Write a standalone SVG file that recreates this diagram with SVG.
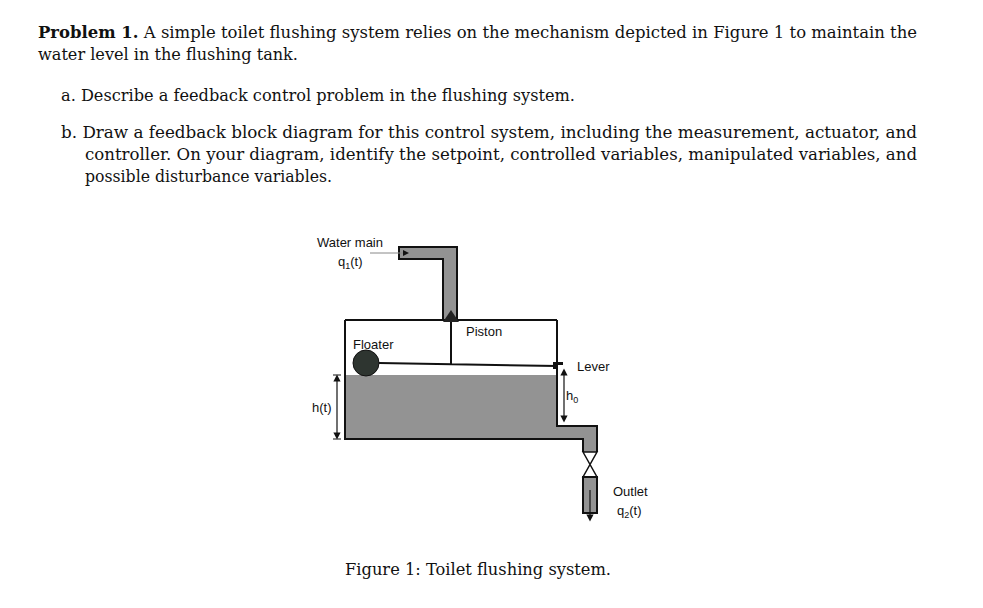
<svg xmlns="http://www.w3.org/2000/svg" width="983" height="608" viewBox="0 0 983 608">
<style>
.t{font-family:"DejaVu Serif","Liberation Serif",serif;font-size:16px;fill:#111}
.s{font-family:"Liberation Sans",Arial,sans-serif;font-size:13px;fill:#111}
.ln{stroke:#111;stroke-width:2;fill:none}
.pipe{fill:#939393;stroke:#111;stroke-width:2}
</style>
<defs><marker id="a" markerWidth="6" markerHeight="6" refX="3" refY="3" orient="auto-start-reverse"><path d="M0,0L6,3L0,6z" fill="#111"/></marker></defs>
<rect width="983" height="608" fill="#fff"/>
<g id="text">
<text class="t" x="38" y="38" textLength="879" lengthAdjust="spacingAndGlyphs"><tspan font-weight="bold">Problem 1.</tspan> A simple toilet flushing system relies on the mechanism depicted in Figure 1 to maintain the</text>
<text class="t" x="38" y="60" textLength="260" lengthAdjust="spacingAndGlyphs">water level in the flushing tank.</text>
<text class="t" x="61" y="101" textLength="514" lengthAdjust="spacingAndGlyphs">a. Describe a feedback control problem in the flushing system.</text>
<text class="t" x="61" y="138" textLength="856" lengthAdjust="spacingAndGlyphs">b. Draw a feedback block diagram for this control system, including the measurement, actuator, and</text>
<text class="t" x="85" y="160" textLength="832" lengthAdjust="spacingAndGlyphs">controller. On your diagram, identify the setpoint, controlled variables, manipulated variables, and</text>
<text class="t" x="85" y="182" textLength="247" lengthAdjust="spacingAndGlyphs">possible disturbance variables.</text>
<text class="t" x="345" y="575" textLength="266" lengthAdjust="spacingAndGlyphs">Figure 1: Toilet flushing system.</text>
</g>
<g id="tank">
<path d="M345,375H557V426H597V452H583V439H345Z" fill="#939393"/>
<path class="ln" d="M345,320V439H583V452M557,320V426H597V452M345,320H557"/>
</g>
<g id="inlet">
<path class="pipe" d="M399,247H457V320H443V259H399Z"/>
<polygon points="451,310 443,322 459,322" fill="#222"/>
</g>
<g id="outlet">
<rect class="pipe" x="583" y="477" width="14" height="36" stroke-width="0"/>
<path class="ln" d="M583,477V513M597,477V513"/>
<path d="M583,452L597,477H583L597,452Z" fill="none" stroke="#111" stroke-width="1.5"/>
</g>
<g id="floater">
<circle cx="366" cy="363" r="13" fill="#2e3530" stroke="#111"/>
<path class="ln" d="M379,363L557,366M451,365V322"/>
<path d="M553,362h10v3h-6v4h-4z" fill="#111"/>
</g>
<g id="connectors">
<line x1="370" y1="253" x2="406" y2="253" stroke="#888" stroke-width="1" marker-end="url(#a)"/>
<line x1="590" y1="490" x2="590" y2="518" stroke="#111" stroke-width="1.2" marker-end="url(#a)"/>
<line x1="337" y1="378" x2="337" y2="436" stroke="#111" stroke-width="1.2" marker-end="url(#a)" marker-start="url(#a)"/>
<path d="M333,375h8M333,439h8" stroke="#111"/>
<line x1="564" y1="372" x2="564" y2="419" stroke="#111" stroke-width="1.2" marker-end="url(#a)" marker-start="url(#a)"/>
</g>
<g id="labels">
<text class="s" x="317" y="247">Water main</text>
<text class="s" x="338" y="266">q<tspan font-size="9" dy="3">1</tspan><tspan dy="-3">(t)</tspan></text>
<text class="s" x="466" y="336">Piston</text>
<text class="s" x="353" y="349">Floater</text>
<text class="s" x="577" y="371">Lever</text>
<text class="s" x="566" y="400">h<tspan font-size="9" dy="3">0</tspan></text>
<text class="s" x="312" y="412">h(t)</text>
<text class="s" x="613" y="496">Outlet</text>
<text class="s" x="617" y="515">q<tspan font-size="9" dy="3">2</tspan><tspan dy="-3">(t)</tspan></text>
</g>
</svg>
